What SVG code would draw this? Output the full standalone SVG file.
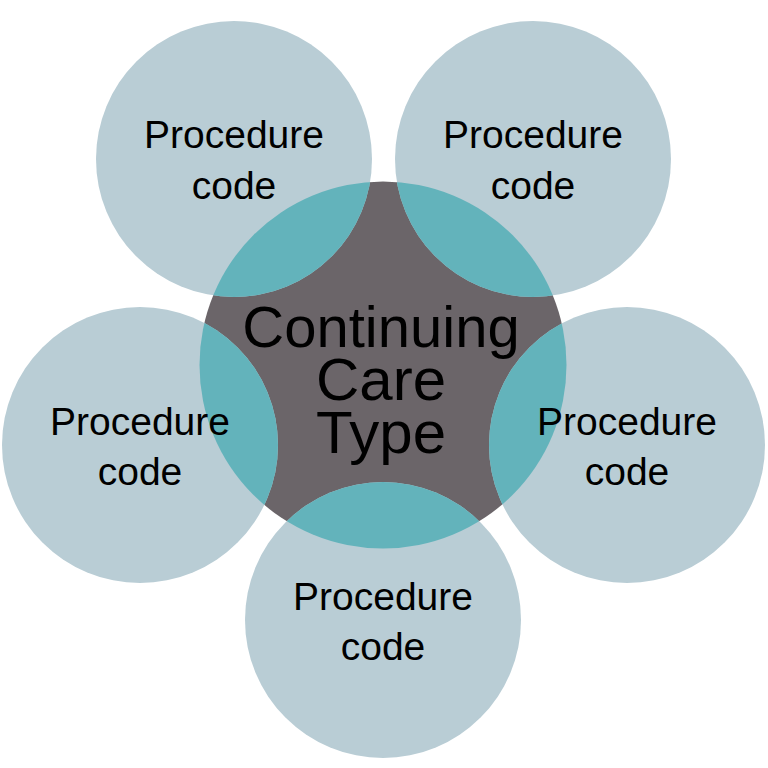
<svg xmlns="http://www.w3.org/2000/svg" width="768" height="768" viewBox="0 0 768 768">
  <style>
    .outer { fill: #b9cdd5; }
    .overlap { fill: #63b3bb; }
    .core { fill: #6b6569; }
    .lbl { font-family: "Liberation Sans", Arial, sans-serif; font-size: 39px; fill: #000; text-anchor: middle; }
    .core-lbl { font-family: "Liberation Sans", Arial, sans-serif; font-size: 58px; fill: #000; text-anchor: middle; }
  </style>
  <defs>
    <clipPath id="coreClip">
      <circle cx="383" cy="365" r="183.5"/>
    </clipPath>
  </defs>
  <rect width="768" height="768" fill="#ffffff"/>

  <g id="core">
    <circle class="core" cx="383" cy="365" r="183.5"/>
  </g>

  <g id="node-top-left">
    <circle class="outer" cx="234" cy="159" r="138"/>
    <circle class="overlap" cx="234" cy="159" r="138" clip-path="url(#coreClip)"/>
    <text class="lbl" x="234" y="148">Procedure<tspan x="234" y="199">code</tspan></text>
  </g>

  <g id="node-top-right">
    <circle class="outer" cx="533" cy="159" r="138"/>
    <circle class="overlap" cx="533" cy="159" r="138" clip-path="url(#coreClip)"/>
    <text class="lbl" x="533" y="148">Procedure<tspan x="533" y="199">code</tspan></text>
  </g>

  <g id="node-left">
    <circle class="outer" cx="140" cy="445" r="138"/>
    <circle class="overlap" cx="140" cy="445" r="138" clip-path="url(#coreClip)"/>
    <text class="lbl" x="140" y="435">Procedure<tspan x="140" y="485">code</tspan></text>
  </g>

  <g id="node-right">
    <circle class="outer" cx="627" cy="445" r="138"/>
    <circle class="overlap" cx="627" cy="445" r="138" clip-path="url(#coreClip)"/>
    <text class="lbl" x="627" y="435">Procedure<tspan x="627" y="485">code</tspan></text>
  </g>

  <g id="node-bottom">
    <circle class="outer" cx="383" cy="620" r="138"/>
    <circle class="overlap" cx="383" cy="620" r="138" clip-path="url(#coreClip)"/>
    <text class="lbl" x="383" y="610">Procedure<tspan x="383" y="660">code</tspan></text>
  </g>

  <g id="core-label">
    <text class="core-lbl" x="381" y="347">Continuing<tspan x="381" y="400" font-size="60">Care</tspan><tspan x="381" y="453" font-size="60">Type</tspan></text>
  </g>
</svg>
